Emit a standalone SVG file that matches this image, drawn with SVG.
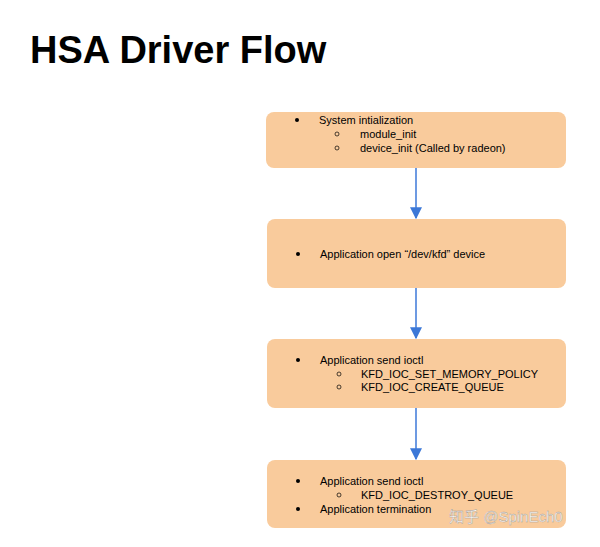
<svg xmlns="http://www.w3.org/2000/svg" width="600" height="547" viewBox="0 0 600 547">
<style>
.box{fill:#f9cb9c;stroke:none}
.t{font-family:"Liberation Sans",Arial,sans-serif;font-size:11px;fill:#000}
.c{stroke:#3c78d8;stroke-width:1.5;fill:none}
</style>
<defs><marker id="a" markerWidth="8" markerHeight="8" refX="6" refY="4" orient="auto" markerUnits="userSpaceOnUse"><path d="M0,0L7,4L0,8z" fill="#3c78d8"/></marker>
<marker id="ah" viewBox="0 0 10 10" markerWidth="12" markerHeight="12" refX="9" refY="5" orient="auto" markerUnits="userSpaceOnUse"><path d="M0,0L10,5L0,10z" fill="#3c78d8"/></marker></defs>
<rect width="600" height="547" fill="#fff"/>
<text x="30" y="63" font-family="Liberation Sans,Arial,sans-serif" font-weight="bold" font-size="38">HSA Driver Flow</text>
<g id="connectors">
<line class="c" x1="416" y1="168" x2="416" y2="218" marker-end="url(#ah)"/>
<line class="c" x1="416" y1="288" x2="416" y2="338" marker-end="url(#ah)"/>
<line class="c" x1="416" y1="408" x2="416" y2="459" marker-end="url(#ah)"/>
</g>
<g id="n1"><rect class="box" x="266" y="112" width="300" height="56" rx="8"/>
<circle cx="297" cy="120" r="2"/><text class="t" x="319" y="124">System intialization</text>
<circle cx="337" cy="134" r="2" fill="none" stroke="#000" stroke-width="0.7"/><text class="t" x="360" y="138">module_init</text>
<circle cx="337" cy="148" r="2" fill="none" stroke="#000" stroke-width="0.7"/><text class="t" x="360" y="152">device_init (Called by radeon)</text></g>
<g id="n2"><rect class="box" x="267" y="219" width="299" height="69" rx="8"/>
<circle cx="298" cy="254" r="2"/><text class="t" x="320" y="258">Application open “/dev/kfd” device</text></g>
<g id="n3"><rect class="box" x="267" y="339" width="299" height="69" rx="8"/>
<circle cx="298" cy="360" r="2"/><text class="t" x="320" y="364">Application send ioctl</text>
<circle cx="339" cy="374" r="2" fill="none" stroke="#000" stroke-width="0.7"/><text class="t" x="361" y="378">KFD_IOC_SET_MEMORY_POLICY</text>
<circle cx="339" cy="387" r="2" fill="none" stroke="#000" stroke-width="0.7"/><text class="t" x="361" y="391">KFD_IOC_CREATE_QUEUE</text></g>
<g id="n4"><rect class="box" x="267" y="460" width="299" height="68" rx="8"/>
<circle cx="298" cy="481" r="2"/><text class="t" x="320" y="485">Application send ioctl</text>
<circle cx="339" cy="495" r="2" fill="none" stroke="#000" stroke-width="0.7"/><text class="t" x="361" y="499">KFD_IOC_DESTROY_QUEUE</text>
<circle cx="298" cy="509" r="2"/><text class="t" x="320" y="513">Application termination</text></g>
<text x="449" y="522" font-family="Liberation Sans,'Noto Sans CJK SC',sans-serif" font-size="15" fill="#fff" stroke="#999" stroke-width="0.4" opacity="0.9">知乎 @SpinEch0</text>
</svg>
